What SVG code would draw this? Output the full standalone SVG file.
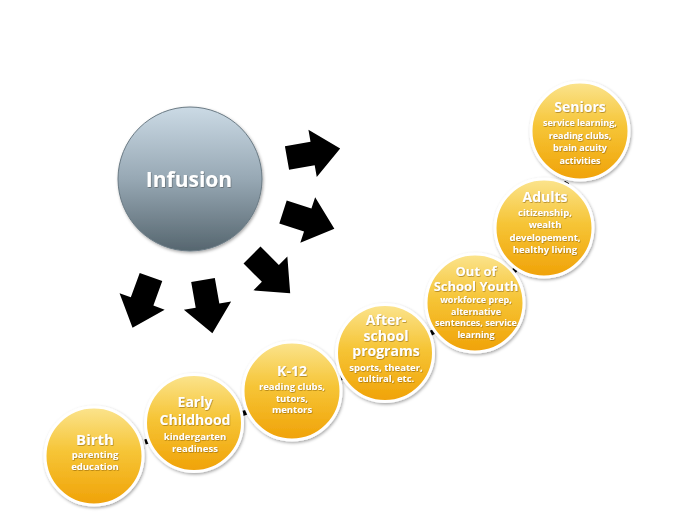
<svg xmlns="http://www.w3.org/2000/svg" width="678" height="521" viewBox="0 0 678 521">
<defs>
<linearGradient id="gold" x1="0" y1="0" x2="0" y2="1">
<stop offset="0" stop-color="#fbe48e"/>
<stop offset="0.45" stop-color="#f6c537"/>
<stop offset="1" stop-color="#f0a207"/>
</linearGradient>
<linearGradient id="slate" x1="0" y1="0" x2="0" y2="1">
<stop offset="0" stop-color="#cbdae5"/>
<stop offset="0.5" stop-color="#97a8b4"/>
<stop offset="1" stop-color="#56666f"/>
</linearGradient>
<filter id="cs" x="-20%" y="-20%" width="140%" height="140%">
<feDropShadow dx="1" dy="1.5" stdDeviation="1.5" flood-color="#000" flood-opacity="0.35"/>
</filter>
<filter id="ts" x="-10%" y="-30%" width="120%" height="160%">
<feDropShadow dx="0.6" dy="0.8" stdDeviation="0.5" flood-color="#7a5200" flood-opacity="0.6"/>
</filter>
<filter id="tsg" x="-10%" y="-30%" width="120%" height="160%">
<feDropShadow dx="0.6" dy="0.8" stdDeviation="0.6" flood-color="#333" flood-opacity="0.5"/>
</filter>
<path id="arr" d="M0,-12 H26 V-24 L54,0 L26,24 V12 H0 Z"/>
</defs>
<style>
.node circle.g { fill: url(#gold); stroke: #ffffff; stroke-width: 3; filter: url(#cs); }
.t { font-family: "Open Sans", "Liberation Sans", sans-serif; font-weight: bold; fill: #ffffff; text-anchor: middle; filter: url(#ts); }
.h { font-size: 14px; }
.s { font-size: 9.5px; }
.s2 { font-size: 9px; }
.arrow { fill: #000000; }
</style>
<rect width="678" height="521" fill="#ffffff"/>

<g id="connectors">
<polyline points="145,442 244,413 341,378 433,332 515,270 567,182" fill="none" stroke="#000" stroke-width="5"/>
</g>

<g id="infusion">
<circle cx="190" cy="179" r="72" fill="url(#slate)" stroke="#6a7a84" stroke-width="1" filter="url(#cs)"/>
<text x="189" y="187" class="t" font-size="21" style="filter:url(#tsg)">Infusion</text>
</g>

<g id="arrows" class="arrow">
<use href="#arr" transform="translate(287,158) rotate(-10)"/>
<use href="#arr" transform="translate(283,212) rotate(18)"/>
<use href="#arr" transform="translate(252,255) rotate(45)"/>
<use href="#arr" transform="translate(203,280) rotate(80)"/>
<use href="#arr" transform="translate(151,277) rotate(110)"/>
</g>

<g id="birth" class="node">
<circle class="g" cx="94" cy="456" r="49"/>
<text class="t" font-size="15" x="95" y="445">Birth</text>
<text class="t s" x="95" y="458">parenting</text>
<text class="t s" x="95" y="470">education</text>
</g>

<g id="early" class="node">
<circle class="g" cx="194" cy="423" r="48.5"/>
<text class="t h" x="195" y="407">Early</text>
<text class="t h" x="195" y="425">Childhood</text>
<text class="t s" x="195" y="440">kindergarten</text>
<text class="t s" x="195" y="452">readiness</text>
</g>

<g id="k12" class="node">
<circle class="g" cx="292" cy="391" r="49"/>
<text class="t h" x="292" y="376">K-12</text>
<text class="t s" x="292" y="390">reading clubs,</text>
<text class="t s" x="292" y="401.5">tutors,</text>
<text class="t s" x="292" y="413">mentors</text>
</g>

<g id="afterschool" class="node">
<circle class="g" cx="385" cy="353" r="48.5"/>
<text class="t h" x="386" y="325">After-</text>
<text class="t h" x="386" y="341">school</text>
<text class="t h" x="386" y="356">programs</text>
<text class="t s" x="386" y="371">sports, theater,</text>
<text class="t s" x="386" y="382">cultiral, etc.</text>
</g>

<g id="outofschool" class="node">
<circle class="g" cx="475" cy="303" r="49"/>
<text class="t" font-size="13" x="476" y="276">Out of</text>
<text class="t" font-size="13" x="476" y="291">School Youth</text>
<text class="t s2" x="476" y="303">workforce prep,</text>
<text class="t s2" x="476" y="315">alternative</text>
<text class="t s2" x="476" y="326">sentences, service</text>
<text class="t s2" x="476" y="338">learning</text>
</g>

<g id="adults" class="node">
<circle class="g" cx="544" cy="228" r="49"/>
<text class="t h" x="545" y="202">Adults</text>
<text class="t s" x="545" y="216">citizenship,</text>
<text class="t s" x="545" y="228">wealth</text>
<text class="t s" x="545" y="241">developement,</text>
<text class="t s" x="545" y="253">healthy living</text>
</g>

<g id="seniors" class="node">
<circle class="g" cx="580" cy="131" r="49"/>
<text class="t h" x="580" y="112">Seniors</text>
<text class="t s2" x="580" y="126">service learning,</text>
<text class="t s2" x="580" y="139">reading clubs,</text>
<text class="t s2" x="580" y="151">brain acuity</text>
<text class="t s2" x="580" y="164">activities</text>
</g>
</svg>
